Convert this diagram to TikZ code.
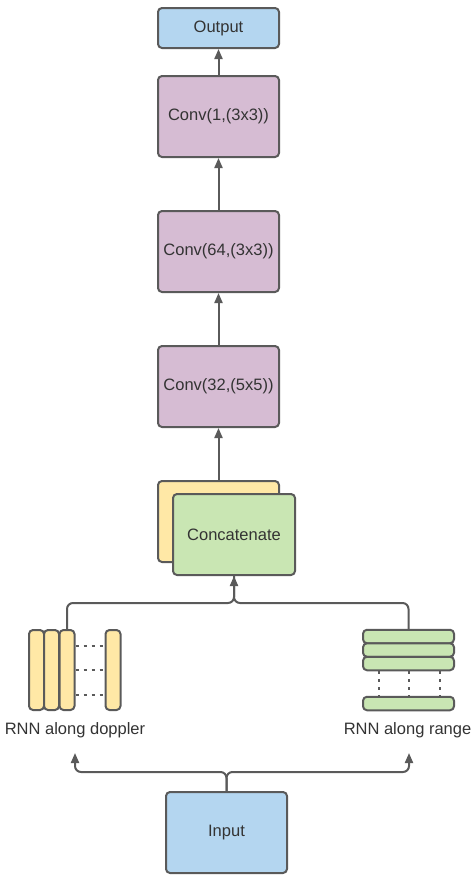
\documentclass[tikz,border=0pt]{standalone}
\usepackage{fontspec}
\setmainfont{Liberation Sans}
\usetikzlibrary{arrows.meta}
\definecolor{edge}{HTML}{5A5A5A}
\definecolor{txt}{HTML}{333333}
\definecolor{bluef}{HTML}{B4D6F0}
\definecolor{purpf}{HTML}{D6BCD3}
\definecolor{yelf}{HTML}{FFE8A6}
\definecolor{grnf}{HTML}{C9E6B3}
\tikzset{
  box/.style={draw=edge, line width=2pt, rounded corners=4pt, text=txt, font=\fontsize{16.5}{19}\selectfont, inner sep=0pt},
  bar/.style={draw=edge, line width=2pt, rounded corners=4pt, inner sep=0pt},
  lbl/.style={text=txt, font=\fontsize{16.5}{19}\selectfont, inner sep=0pt},
  arr/.style={draw=edge, line width=2pt, -{Triangle[width=8pt,length=10pt]}},
  dots/.style={draw=edge, line width=1.4pt, dash pattern=on 3pt off 5pt},
}
\begin{document}
\begin{tikzpicture}[x=1pt,y=-1pt]
\useasboundingbox (0,0) rectangle (474,876);
% top chain
\node[box, fill=bluef, minimum width=121pt, minimum height=40pt] (out) at (218.5,28) {Output};
\node[box, fill=purpf, minimum width=121pt, minimum height=81pt] (c1) at (218.5,116.5) {Conv(1,(3x3))};
\node[box, fill=purpf, minimum width=121pt, minimum height=81pt] (c64) at (218.5,251.5) {Conv(64,(3x3))};
\node[box, fill=purpf, minimum width=121pt, minimum height=81pt] (c32) at (218.5,386.5) {Conv(32,(5x5))};
% concatenate
\node[box, fill=yelf, minimum width=121pt, minimum height=81pt] (cback) at (218.5,521.5) {};
\node[box, fill=grnf, minimum width=122pt, minimum height=81pt] (cat) at (234,534.5) {Concatenate};
\draw[arr] (c1.north) -- (out.south);
\draw[arr] (c64.north) -- (c1.south);
\draw[arr] (c32.north) -- (c64.south);
\draw[arr] (cback.north) -- (c32.south);
% RNN along doppler bars
\node[bar, fill=yelf, minimum width=15pt, minimum height=80pt] (y1) at (36.5,670) {};
\node[bar, fill=yelf, minimum width=15pt, minimum height=80pt] (y2) at (51.5,670) {};
\node[bar, fill=yelf, minimum width=15pt, minimum height=80pt] (y3) at (67,670) {};
\node[bar, fill=yelf, minimum width=15pt, minimum height=80pt] (y4) at (113,670) {};
\draw[dots] (y3.east |- 0,646) -- (y4.west |- 0,646);
\draw[dots] (y3.east |- 0,670) -- (y4.west |- 0,670);
\draw[dots] (y3.east |- 0,695) -- (y4.west |- 0,695);
% RNN along range bars
\node[bar, fill=grnf, minimum width=91pt, minimum height=13.5pt] (g1) at (408.5,636.5) {};
\node[bar, fill=grnf, minimum width=91pt, minimum height=13.5pt] (g2) at (408.5,650) {};
\node[bar, fill=grnf, minimum width=91pt, minimum height=13.5pt] (g3) at (408.5,663.5) {};
\node[bar, fill=grnf, minimum width=91pt, minimum height=13.5pt] (g4) at (408.5,703.5) {};
\draw[dots] (379,0 |- g3.south) -- (379,0 |- g4.north);
\draw[dots] (409,0 |- g3.south) -- (409,0 |- g4.north);
\draw[dots] (440,0 |- g3.south) -- (440,0 |- g4.north);
% labels
\node[lbl] (ld) at (75,730) {RNN along doppler};
\node[lbl] (lr) at (407.5,730) {RNN along range};
% merge to concatenate
\coordinate (mj) at (234,603);
\draw[edge, line width=2pt, rounded corners=6pt] (y3.north) |- (mj) -- (cat.south);
\draw[arr, rounded corners=6pt] (g1.north) |- (mj) -- (cat.south);
% input
\node[box, fill=bluef, minimum width=121pt, minimum height=81pt] (in) at (226.5,832.5) {Input};
\coordinate (bl) at (75,772);
\coordinate (br) at (409,772);
\coordinate (tl) at (75,753);
\coordinate (tr) at (409,753);
\draw[arr, rounded corners=6pt] (in.north) |- (bl) -- (tl);
\draw[arr, rounded corners=6pt] (in.north) |- (br) -- (tr);
\end{tikzpicture}
\end{document}
